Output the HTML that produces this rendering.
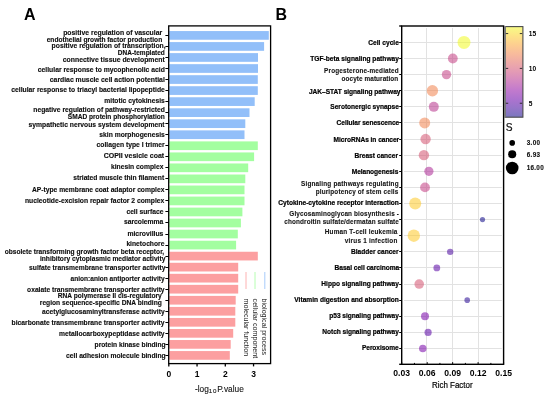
<!DOCTYPE html>
<html><head><meta charset="utf-8"><style>
html,body{margin:0;padding:0;background:#fff;}
body{width:550px;height:395px;overflow:hidden;}
svg{display:block;will-change:transform;}
text{font-family:"Liberation Sans", sans-serif;fill:#000;}
.la{font-size:6.35px;font-weight:bold;fill:#0d0d0d;stroke:#0d0d0d;stroke-width:0.12px;}
.lb{font-size:6.6px;font-weight:bold;fill:#000;stroke:#000;stroke-width:0.2px;}
.lb2{font-size:6.4px;font-weight:bold;fill:#141414;stroke:#141414;stroke-width:0.1px;}
.ta{font-size:8.5px;font-weight:bold;}
.tb{font-size:8.6px;font-weight:bold;}
.xl{font-size:8.3px;fill:#111;stroke:#111;stroke-width:0.1px;}
.xb{font-size:8.8px;fill:#000;stroke:#000;stroke-width:0.2px;}
.lg{font-size:7.1px;fill:#222;}
.cb{font-size:6.6px;font-weight:bold;}
.ss{font-size:10.2px;fill:#111;stroke:#111;stroke-width:0.2px;}
.sl{font-size:6.3px;font-weight:bold;fill:#111;stroke:#111;stroke-width:0.12px;}
.pl{font-size:16px;font-weight:bold;}
</style></head><body>
<svg width="550" height="395" viewBox="0 0 550 395" xmlns="http://www.w3.org/2000/svg">
<rect x="169.20" y="31.05" width="99.60" height="8.7" fill="#92bff9"/>
<line x1="165.4" x2="168.70" y1="35.50" y2="35.50" stroke="#000" stroke-width="1"/>
<rect x="169.20" y="42.09" width="94.90" height="8.7" fill="#92bff9"/>
<line x1="165.4" x2="168.70" y1="46.50" y2="46.50" stroke="#000" stroke-width="1"/>
<rect x="169.20" y="53.12" width="88.80" height="8.7" fill="#92bff9"/>
<line x1="165.4" x2="168.70" y1="57.50" y2="57.50" stroke="#000" stroke-width="1"/>
<rect x="169.20" y="64.16" width="88.80" height="8.7" fill="#92bff9"/>
<line x1="165.4" x2="168.70" y1="68.50" y2="68.50" stroke="#000" stroke-width="1"/>
<rect x="169.20" y="75.19" width="88.60" height="8.7" fill="#92bff9"/>
<line x1="165.4" x2="168.70" y1="79.50" y2="79.50" stroke="#000" stroke-width="1"/>
<rect x="169.20" y="86.22" width="88.60" height="8.7" fill="#92bff9"/>
<line x1="165.4" x2="168.70" y1="90.50" y2="90.50" stroke="#000" stroke-width="1"/>
<rect x="169.20" y="97.26" width="85.50" height="8.7" fill="#92bff9"/>
<line x1="165.4" x2="168.70" y1="101.50" y2="101.50" stroke="#000" stroke-width="1"/>
<rect x="169.20" y="108.30" width="80.30" height="8.7" fill="#92bff9"/>
<line x1="165.4" x2="168.70" y1="112.50" y2="112.50" stroke="#000" stroke-width="1"/>
<rect x="169.20" y="119.33" width="76.10" height="8.7" fill="#92bff9"/>
<line x1="165.4" x2="168.70" y1="123.50" y2="123.50" stroke="#000" stroke-width="1"/>
<rect x="169.20" y="130.37" width="75.30" height="8.7" fill="#92bff9"/>
<line x1="165.4" x2="168.70" y1="134.50" y2="134.50" stroke="#000" stroke-width="1"/>
<rect x="169.20" y="141.40" width="88.60" height="8.7" fill="#a3fea0"/>
<line x1="165.4" x2="168.70" y1="145.50" y2="145.50" stroke="#000" stroke-width="1"/>
<rect x="169.20" y="152.44" width="84.90" height="8.7" fill="#a3fea0"/>
<line x1="165.4" x2="168.70" y1="156.50" y2="156.50" stroke="#000" stroke-width="1"/>
<rect x="169.20" y="163.47" width="79.00" height="8.7" fill="#a3fea0"/>
<line x1="165.4" x2="168.70" y1="167.50" y2="167.50" stroke="#000" stroke-width="1"/>
<rect x="169.20" y="174.51" width="76.10" height="8.7" fill="#a3fea0"/>
<line x1="165.4" x2="168.70" y1="178.50" y2="178.50" stroke="#000" stroke-width="1"/>
<rect x="169.20" y="185.54" width="75.30" height="8.7" fill="#a3fea0"/>
<line x1="165.4" x2="168.70" y1="189.50" y2="189.50" stroke="#000" stroke-width="1"/>
<rect x="169.20" y="196.58" width="75.30" height="8.7" fill="#a3fea0"/>
<line x1="165.4" x2="168.70" y1="200.50" y2="200.50" stroke="#000" stroke-width="1"/>
<rect x="169.20" y="207.61" width="73.20" height="8.7" fill="#a3fea0"/>
<line x1="165.4" x2="168.70" y1="211.50" y2="211.50" stroke="#000" stroke-width="1"/>
<rect x="169.20" y="218.65" width="71.70" height="8.7" fill="#a3fea0"/>
<line x1="165.4" x2="168.70" y1="222.50" y2="222.50" stroke="#000" stroke-width="1"/>
<rect x="169.20" y="229.68" width="68.60" height="8.7" fill="#a3fea0"/>
<line x1="165.4" x2="168.70" y1="234.50" y2="234.50" stroke="#000" stroke-width="1"/>
<rect x="169.20" y="240.72" width="66.90" height="8.7" fill="#a3fea0"/>
<line x1="165.4" x2="168.70" y1="245.50" y2="245.50" stroke="#000" stroke-width="1"/>
<rect x="169.20" y="251.75" width="88.60" height="8.7" fill="#fc9fa0"/>
<line x1="165.4" x2="168.70" y1="256.50" y2="256.50" stroke="#000" stroke-width="1"/>
<rect x="169.20" y="262.78" width="69.00" height="8.7" fill="#fc9fa0"/>
<line x1="165.4" x2="168.70" y1="267.50" y2="267.50" stroke="#000" stroke-width="1"/>
<rect x="169.20" y="273.82" width="69.00" height="8.7" fill="#fc9fa0"/>
<line x1="165.4" x2="168.70" y1="278.50" y2="278.50" stroke="#000" stroke-width="1"/>
<rect x="169.20" y="284.85" width="69.00" height="8.7" fill="#fc9fa0"/>
<line x1="165.4" x2="168.70" y1="289.50" y2="289.50" stroke="#000" stroke-width="1"/>
<rect x="169.20" y="295.89" width="66.50" height="8.7" fill="#fc9fa0"/>
<line x1="165.4" x2="168.70" y1="300.50" y2="300.50" stroke="#000" stroke-width="1"/>
<rect x="169.20" y="306.92" width="66.10" height="8.7" fill="#fc9fa0"/>
<line x1="165.4" x2="168.70" y1="311.50" y2="311.50" stroke="#000" stroke-width="1"/>
<rect x="169.20" y="317.96" width="66.10" height="8.7" fill="#fc9fa0"/>
<line x1="165.4" x2="168.70" y1="322.50" y2="322.50" stroke="#000" stroke-width="1"/>
<rect x="169.20" y="328.99" width="64.00" height="8.7" fill="#fc9fa0"/>
<line x1="165.4" x2="168.70" y1="333.50" y2="333.50" stroke="#000" stroke-width="1"/>
<rect x="169.20" y="340.03" width="61.50" height="8.7" fill="#fc9fa0"/>
<line x1="165.4" x2="168.70" y1="344.50" y2="344.50" stroke="#000" stroke-width="1"/>
<rect x="169.20" y="351.06" width="60.60" height="8.7" fill="#fc9fa0"/>
<line x1="165.4" x2="168.70" y1="355.50" y2="355.50" stroke="#000" stroke-width="1"/>
<text x="162.20" y="34.60" text-anchor="end" class="la" textLength="99.00" lengthAdjust="spacingAndGlyphs">positive regulation of vascular</text>
<text x="162.20" y="41.60" text-anchor="end" class="la" textLength="115.50" lengthAdjust="spacingAndGlyphs">endothelial growth factor production</text>
<text x="165.60" y="47.50" text-anchor="end" class="la" textLength="114.00" lengthAdjust="spacingAndGlyphs">positive regulation of transcription,</text>
<text x="164.80" y="54.70" text-anchor="end" class="la" textLength="47.00" lengthAdjust="spacingAndGlyphs">DNA-templated</text>
<text x="164.80" y="61.50" text-anchor="end" class="la" textLength="102.00" lengthAdjust="spacingAndGlyphs">connective tissue development</text>
<text x="164.80" y="71.90" text-anchor="end" class="la" textLength="127.00" lengthAdjust="spacingAndGlyphs">cellular response to mycophenolic acid</text>
<text x="164.80" y="82.10" text-anchor="end" class="la" textLength="115.00" lengthAdjust="spacingAndGlyphs">cardiac muscle cell action potential</text>
<text x="164.80" y="92.30" text-anchor="end" class="la" textLength="153.50" lengthAdjust="spacingAndGlyphs">cellular response to triacyl bacterial lipopeptide</text>
<text x="164.80" y="102.60" text-anchor="end" class="la" textLength="60.50" lengthAdjust="spacingAndGlyphs">mitotic cytokinesis</text>
<text x="164.80" y="112.40" text-anchor="end" class="la" textLength="131.50" lengthAdjust="spacingAndGlyphs">negative regulation of pathway-restricted</text>
<text x="164.80" y="119.40" text-anchor="end" class="la" textLength="97.00" lengthAdjust="spacingAndGlyphs">SMAD protein phosphorylation</text>
<text x="164.60" y="127.30" text-anchor="end" class="la" textLength="136.00" lengthAdjust="spacingAndGlyphs">sympathetic nervous system development</text>
<text x="164.80" y="136.50" text-anchor="end" class="la" textLength="65.50" lengthAdjust="spacingAndGlyphs">skin morphogenesis</text>
<text x="164.60" y="147.40" text-anchor="end" class="la" textLength="68.00" lengthAdjust="spacingAndGlyphs">collagen type I trimer</text>
<text x="164.20" y="158.40" text-anchor="end" class="la" textLength="60.50" lengthAdjust="spacingAndGlyphs">COPII vesicle coat</text>
<text x="163.40" y="169.40" text-anchor="end" class="la" textLength="52.50" lengthAdjust="spacingAndGlyphs">kinesin complex</text>
<text x="164.20" y="180.20" text-anchor="end" class="la" textLength="91.00" lengthAdjust="spacingAndGlyphs">striated muscle thin filament</text>
<text x="164.40" y="191.70" text-anchor="end" class="la" textLength="132.50" lengthAdjust="spacingAndGlyphs">AP-type membrane coat adaptor complex</text>
<text x="164.40" y="202.50" text-anchor="end" class="la" textLength="139.50" lengthAdjust="spacingAndGlyphs">nucleotide-excision repair factor 2 complex</text>
<text x="163.40" y="213.70" text-anchor="end" class="la" textLength="37.00" lengthAdjust="spacingAndGlyphs">cell surface</text>
<text x="163.40" y="224.40" text-anchor="end" class="la" textLength="39.50" lengthAdjust="spacingAndGlyphs">sarcolemma</text>
<text x="163.40" y="235.70" text-anchor="end" class="la" textLength="36.00" lengthAdjust="spacingAndGlyphs">microvillus</text>
<text x="164.40" y="246.40" text-anchor="end" class="la" textLength="38.00" lengthAdjust="spacingAndGlyphs">kinetochore</text>
<text x="164.20" y="254.40" text-anchor="end" class="la" textLength="159.50" lengthAdjust="spacingAndGlyphs">obsolete transforming growth factor beta receptor,</text>
<text x="165.40" y="261.40" text-anchor="end" class="la" textLength="125.50" lengthAdjust="spacingAndGlyphs">inhibitory cytoplasmic mediator activity</text>
<text x="165.60" y="270.30" text-anchor="end" class="la" textLength="136.50" lengthAdjust="spacingAndGlyphs">sulfate transmembrane transporter activity</text>
<text x="164.60" y="280.90" text-anchor="end" class="la" textLength="94.00" lengthAdjust="spacingAndGlyphs">anion:anion antiporter activity</text>
<text x="164.60" y="292.00" text-anchor="end" class="la" textLength="137.50" lengthAdjust="spacingAndGlyphs">oxalate transmembrane transporter activity</text>
<text x="161.80" y="298.20" text-anchor="end" class="la" textLength="104.00" lengthAdjust="spacingAndGlyphs">RNA polymerase II cis-regulatory</text>
<text x="161.80" y="305.00" text-anchor="end" class="la" textLength="122.00" lengthAdjust="spacingAndGlyphs">region sequence-specific DNA binding</text>
<text x="164.60" y="313.90" text-anchor="end" class="la" textLength="122.50" lengthAdjust="spacingAndGlyphs">acetylglucosaminyltransferase activity</text>
<text x="164.60" y="325.00" text-anchor="end" class="la" textLength="153.00" lengthAdjust="spacingAndGlyphs">bicarbonate transmembrane transporter activity</text>
<text x="164.60" y="335.90" text-anchor="end" class="la" textLength="105.50" lengthAdjust="spacingAndGlyphs">metallocarboxypeptidase activity</text>
<text x="165.60" y="347.10" text-anchor="end" class="la" textLength="71.00" lengthAdjust="spacingAndGlyphs">protein kinase binding</text>
<text x="165.60" y="358.00" text-anchor="end" class="la" textLength="99.50" lengthAdjust="spacingAndGlyphs">cell adhesion molecule binding</text>
<rect x="168.7" y="25.9" width="101.90" height="337.70" fill="none" stroke="#000" stroke-width="1.3"/>
<line x1="168.80" x2="168.80" y1="363.6" y2="366.40000000000003" stroke="#000" stroke-width="1.3"/>
<text x="168.80" y="377.4" text-anchor="middle" class="ta">0</text>
<line x1="197.05" x2="197.05" y1="363.6" y2="366.40000000000003" stroke="#000" stroke-width="1.3"/>
<text x="197.05" y="377.4" text-anchor="middle" class="ta">1</text>
<line x1="225.30" x2="225.30" y1="363.6" y2="366.40000000000003" stroke="#000" stroke-width="1.3"/>
<text x="225.30" y="377.4" text-anchor="middle" class="ta">2</text>
<line x1="253.55" x2="253.55" y1="363.6" y2="366.40000000000003" stroke="#000" stroke-width="1.3"/>
<text x="253.55" y="377.4" text-anchor="middle" class="ta">3</text>
<text x="195.0" y="391.7" class="xl">-log<tspan font-size="6.2" dy="1.7" letter-spacing="0.7">10</tspan><tspan dy="-1.7">P.value</tspan></text>
<line x1="246" x2="246" y1="272" y2="289" stroke="#fc9fa0" stroke-width="0.8"/>
<line x1="255" x2="255" y1="272" y2="289" stroke="#a3fea0" stroke-width="0.8"/>
<line x1="264.8" x2="264.8" y1="272" y2="289" stroke="#92bff9" stroke-width="0.8"/>
<text x="0" y="0" transform="translate(262.2,298.6) rotate(90)" class="lg">biological process</text>
<text x="0" y="0" transform="translate(253.1,298.6) rotate(90)" class="lg">cellular component</text>
<text x="0" y="0" transform="translate(243.8,298.6) rotate(90)" class="lg">molecular function</text>
<line x1="426.50" x2="426.50" y1="28.0" y2="362.3" stroke="#e2e2e2" stroke-width="1"/>
<line x1="452.50" x2="452.50" y1="28.0" y2="362.3" stroke="#e2e2e2" stroke-width="1"/>
<line x1="478.50" x2="478.50" y1="28.0" y2="362.3" stroke="#e2e2e2" stroke-width="1"/>
<line x1="404.00" x2="501.80" y1="42.50" y2="42.50" stroke="#e2e2e2" stroke-width="1"/>
<line x1="404.00" x2="501.80" y1="58.50" y2="58.50" stroke="#e2e2e2" stroke-width="1"/>
<line x1="404.00" x2="501.80" y1="74.50" y2="74.50" stroke="#e2e2e2" stroke-width="1"/>
<line x1="404.00" x2="501.80" y1="90.50" y2="90.50" stroke="#e2e2e2" stroke-width="1"/>
<line x1="404.00" x2="501.80" y1="106.50" y2="106.50" stroke="#e2e2e2" stroke-width="1"/>
<line x1="404.00" x2="501.80" y1="122.50" y2="122.50" stroke="#e2e2e2" stroke-width="1"/>
<line x1="404.00" x2="501.80" y1="139.50" y2="139.50" stroke="#e2e2e2" stroke-width="1"/>
<line x1="404.00" x2="501.80" y1="155.50" y2="155.50" stroke="#e2e2e2" stroke-width="1"/>
<line x1="404.00" x2="501.80" y1="171.50" y2="171.50" stroke="#e2e2e2" stroke-width="1"/>
<line x1="404.00" x2="501.80" y1="187.50" y2="187.50" stroke="#e2e2e2" stroke-width="1"/>
<line x1="404.00" x2="501.80" y1="203.50" y2="203.50" stroke="#e2e2e2" stroke-width="1"/>
<line x1="404.00" x2="501.80" y1="219.50" y2="219.50" stroke="#e2e2e2" stroke-width="1"/>
<line x1="404.00" x2="501.80" y1="235.50" y2="235.50" stroke="#e2e2e2" stroke-width="1"/>
<line x1="404.00" x2="501.80" y1="251.50" y2="251.50" stroke="#e2e2e2" stroke-width="1"/>
<line x1="404.00" x2="501.80" y1="267.50" y2="267.50" stroke="#e2e2e2" stroke-width="1"/>
<line x1="404.00" x2="501.80" y1="284.50" y2="284.50" stroke="#e2e2e2" stroke-width="1"/>
<line x1="404.00" x2="501.80" y1="300.50" y2="300.50" stroke="#e2e2e2" stroke-width="1"/>
<line x1="404.00" x2="501.80" y1="316.50" y2="316.50" stroke="#e2e2e2" stroke-width="1"/>
<line x1="404.00" x2="501.80" y1="332.50" y2="332.50" stroke="#e2e2e2" stroke-width="1"/>
<line x1="404.00" x2="501.80" y1="348.50" y2="348.50" stroke="#e2e2e2" stroke-width="1"/>
<circle cx="464.0" cy="42.40" r="6.5" fill="#f0f921" fill-opacity="0.55"/>
<line x1="399.2" x2="401.7" y1="42.50" y2="42.50" stroke="#000" stroke-width="1"/>
<circle cx="452.8" cy="58.51" r="4.9" fill="#c23c81" fill-opacity="0.55"/>
<line x1="399.2" x2="401.7" y1="58.50" y2="58.50" stroke="#000" stroke-width="1"/>
<circle cx="446.5" cy="74.62" r="4.7" fill="#c23c81" fill-opacity="0.55"/>
<line x1="399.2" x2="401.7" y1="74.50" y2="74.50" stroke="#000" stroke-width="1"/>
<circle cx="432.4" cy="90.73" r="5.7" fill="#f1814d" fill-opacity="0.55"/>
<line x1="399.2" x2="401.7" y1="90.50" y2="90.50" stroke="#000" stroke-width="1"/>
<circle cx="433.8" cy="106.84" r="5.0" fill="#b7318a" fill-opacity="0.55"/>
<line x1="399.2" x2="401.7" y1="106.50" y2="106.50" stroke="#000" stroke-width="1"/>
<circle cx="424.7" cy="122.95" r="5.5" fill="#f1814d" fill-opacity="0.55"/>
<line x1="399.2" x2="401.7" y1="122.50" y2="122.50" stroke="#000" stroke-width="1"/>
<circle cx="425.6" cy="139.06" r="5.2" fill="#d45270" fill-opacity="0.55"/>
<line x1="399.2" x2="401.7" y1="139.50" y2="139.50" stroke="#000" stroke-width="1"/>
<circle cx="423.9" cy="155.17" r="5.2" fill="#d45270" fill-opacity="0.55"/>
<line x1="399.2" x2="401.7" y1="155.50" y2="155.50" stroke="#000" stroke-width="1"/>
<circle cx="428.9" cy="171.28" r="4.6" fill="#ac2694" fill-opacity="0.55"/>
<line x1="399.2" x2="401.7" y1="171.50" y2="171.50" stroke="#000" stroke-width="1"/>
<circle cx="425.0" cy="187.39" r="4.9" fill="#c23c81" fill-opacity="0.55"/>
<line x1="399.2" x2="401.7" y1="187.50" y2="187.50" stroke="#000" stroke-width="1"/>
<circle cx="415.2" cy="203.50" r="6.0" fill="#fdc827" fill-opacity="0.55"/>
<line x1="399.2" x2="401.7" y1="203.50" y2="203.50" stroke="#000" stroke-width="1"/>
<circle cx="482.5" cy="219.61" r="2.6" fill="#0d0887" fill-opacity="0.55"/>
<line x1="399.2" x2="401.7" y1="219.50" y2="219.50" stroke="#000" stroke-width="1"/>
<circle cx="413.8" cy="235.72" r="6.2" fill="#fdc827" fill-opacity="0.55"/>
<line x1="399.2" x2="401.7" y1="235.50" y2="235.50" stroke="#000" stroke-width="1"/>
<circle cx="450.2" cy="251.83" r="3.2" fill="#48039f" fill-opacity="0.55"/>
<line x1="399.2" x2="401.7" y1="251.50" y2="251.50" stroke="#000" stroke-width="1"/>
<circle cx="436.8" cy="267.94" r="3.4" fill="#5801a4" fill-opacity="0.55"/>
<line x1="399.2" x2="401.7" y1="267.50" y2="267.50" stroke="#000" stroke-width="1"/>
<circle cx="419.2" cy="284.05" r="4.8" fill="#d45270" fill-opacity="0.55"/>
<line x1="399.2" x2="401.7" y1="284.50" y2="284.50" stroke="#000" stroke-width="1"/>
<circle cx="467.2" cy="300.16" r="2.8" fill="#240691" fill-opacity="0.55"/>
<line x1="399.2" x2="401.7" y1="300.50" y2="300.50" stroke="#000" stroke-width="1"/>
<circle cx="425.0" cy="316.27" r="4.0" fill="#7701a8" fill-opacity="0.55"/>
<line x1="399.2" x2="401.7" y1="316.50" y2="316.50" stroke="#000" stroke-width="1"/>
<circle cx="428.1" cy="332.38" r="3.6" fill="#5801a4" fill-opacity="0.55"/>
<line x1="399.2" x2="401.7" y1="332.50" y2="332.50" stroke="#000" stroke-width="1"/>
<circle cx="422.8" cy="348.49" r="3.8" fill="#7701a8" fill-opacity="0.55"/>
<line x1="399.2" x2="401.7" y1="348.50" y2="348.50" stroke="#000" stroke-width="1"/>
<text x="398.90" y="44.90" text-anchor="end" class="lb" textLength="30.60">Cell cycle</text>
<text x="398.90" y="61.20" text-anchor="end" class="lb" textLength="88.60">TGF-beta signaling pathway</text>
<text x="398.70" y="73.00" text-anchor="end" class="lb2" textLength="74.60">Progesterone-mediated</text>
<text x="398.20" y="80.80" text-anchor="end" class="lb2" textLength="56.60">oocyte maturation</text>
<text x="400.50" y="93.80" text-anchor="end" class="lb" textLength="91.60">JAK–STAT signaling pathway</text>
<text x="398.90" y="108.60" text-anchor="end" class="lb" textLength="68.60">Serotonergic synapse</text>
<text x="399.20" y="125.20" text-anchor="end" class="lb" textLength="62.60">Cellular senescence</text>
<text x="399.20" y="141.80" text-anchor="end" class="lb" textLength="65.60">MicroRNAs in cancer</text>
<text x="398.00" y="157.60" text-anchor="end" class="lb" textLength="43.60">Breast cancer</text>
<text x="398.30" y="173.70" text-anchor="end" class="lb" textLength="46.60">Melanogenesis</text>
<text x="398.60" y="186.10" text-anchor="end" class="lb2" textLength="97.60">Signaling pathways regulating</text>
<text x="398.30" y="193.70" text-anchor="end" class="lb2" textLength="82.60">pluripotency of stem cells</text>
<text x="398.90" y="205.00" text-anchor="end" class="lb" textLength="120.60">Cytokine-cytokine receptor interaction</text>
<text x="398.90" y="215.60" text-anchor="end" class="lb2" textLength="109.60">Glycosaminoglycan biosynthesis -</text>
<text x="398.90" y="223.90" text-anchor="end" class="lb2" textLength="114.60">chondroitin sulfate/dermatan sulfate</text>
<text x="397.40" y="234.20" text-anchor="end" class="lb2" textLength="72.60">Human T-cell leukemia</text>
<text x="397.40" y="242.50" text-anchor="end" class="lb2" textLength="52.60">virus 1 infection</text>
<text x="398.60" y="253.80" text-anchor="end" class="lb" textLength="47.60">Bladder cancer</text>
<text x="399.20" y="269.70" text-anchor="end" class="lb" textLength="64.60">Basal cell carcinoma</text>
<text x="398.90" y="285.90" text-anchor="end" class="lb" textLength="77.60">Hippo signaling pathway</text>
<text x="398.90" y="301.60" text-anchor="end" class="lb" textLength="104.60">Vitamin digestion and absorption</text>
<text x="398.90" y="317.60" text-anchor="end" class="lb" textLength="69.60">p53 signaling pathway</text>
<text x="398.90" y="333.90" text-anchor="end" class="lb" textLength="76.60">Notch signaling pathway</text>
<text x="398.60" y="349.90" text-anchor="end" class="lb" textLength="36.60">Peroxisome</text>
<rect x="401.7" y="26.0" width="101.90" height="338.30" fill="none" stroke="#000" stroke-width="1.4"/>
<line x1="399.2" x2="401.7" y1="26.0" y2="26.0" stroke="#000" stroke-width="1.4"/>
<line x1="399.2" x2="401.7" y1="364.3" y2="364.3" stroke="#000" stroke-width="1.4"/>
<line x1="401.70" x2="401.70" y1="364.3" y2="362.1" stroke="#000" stroke-width="1"/>
<line x1="414.44" x2="414.44" y1="364.3" y2="362.90000000000003" stroke="#000" stroke-width="1"/>
<line x1="427.18" x2="427.18" y1="364.3" y2="362.1" stroke="#000" stroke-width="1"/>
<line x1="439.91" x2="439.91" y1="364.3" y2="362.90000000000003" stroke="#000" stroke-width="1"/>
<line x1="452.65" x2="452.65" y1="364.3" y2="362.1" stroke="#000" stroke-width="1"/>
<line x1="465.39" x2="465.39" y1="364.3" y2="362.90000000000003" stroke="#000" stroke-width="1"/>
<line x1="478.12" x2="478.12" y1="364.3" y2="362.1" stroke="#000" stroke-width="1"/>
<line x1="490.86" x2="490.86" y1="364.3" y2="362.90000000000003" stroke="#000" stroke-width="1"/>
<line x1="503.60" x2="503.60" y1="364.3" y2="362.1" stroke="#000" stroke-width="1"/>
<text x="401.70" y="375.9" text-anchor="middle" class="tb">0.03</text>
<text x="427.18" y="375.9" text-anchor="middle" class="tb">0.06</text>
<text x="452.65" y="375.9" text-anchor="middle" class="tb">0.09</text>
<text x="478.12" y="375.9" text-anchor="middle" class="tb">0.12</text>
<text x="503.60" y="375.9" text-anchor="middle" class="tb">0.15</text>
<text x="452.3" y="387.9" text-anchor="middle" class="xb" textLength="40.6" lengthAdjust="spacingAndGlyphs">Rich Factor</text>
<defs><linearGradient id="cb" x1="0" y1="0" x2="0" y2="1"><stop offset="0.00" stop-color="#f7fc85"/><stop offset="0.10" stop-color="#fde487"/><stop offset="0.20" stop-color="#fdce90"/><stop offset="0.30" stop-color="#f8bb9c"/><stop offset="0.40" stop-color="#eeaaa8"/><stop offset="0.50" stop-color="#e39ab5"/><stop offset="0.60" stop-color="#d48ac2"/><stop offset="0.70" stop-color="#c27acd"/><stop offset="0.80" stop-color="#ad73cf"/><stop offset="0.90" stop-color="#9675c9"/><stop offset="1.00" stop-color="#7a77bd"/></linearGradient></defs>
<rect x="505.1" y="26.6" width="17.8" height="90.6" fill="url(#cb)" stroke="#4a4a4a" stroke-width="1.1"/>
<rect x="504.1" y="26.1" width="1.8" height="91.6" fill="#7a7a7a"/>
<line x1="505.8" x2="508.2" y1="33.57" y2="33.57" stroke="#222" stroke-width="0.9"/>
<line x1="519.8" x2="522.2" y1="33.57" y2="33.57" stroke="#222" stroke-width="0.9"/>
<text x="528.8" y="35.87" class="cb">15</text>
<line x1="505.8" x2="508.2" y1="68.42" y2="68.42" stroke="#222" stroke-width="0.9"/>
<line x1="519.8" x2="522.2" y1="68.42" y2="68.42" stroke="#222" stroke-width="0.9"/>
<text x="528.8" y="70.72" class="cb">10</text>
<line x1="505.8" x2="508.2" y1="103.26" y2="103.26" stroke="#222" stroke-width="0.9"/>
<line x1="519.8" x2="522.2" y1="103.26" y2="103.26" stroke="#222" stroke-width="0.9"/>
<text x="528.8" y="105.56" class="cb">5</text>
<text x="505.8" y="130.9" class="ss">S</text>
<circle cx="512.2" cy="142.9" r="2.8" fill="#000"/>
<text x="526.7" y="145.30" class="sl" textLength="13.4">3.00</text>
<circle cx="512.2" cy="154.2" r="4.05" fill="#000"/>
<text x="526.7" y="156.60" class="sl" textLength="13.4">6.93</text>
<circle cx="512.2" cy="168.0" r="6.3" fill="#000"/>
<text x="526.7" y="170.40" class="sl" textLength="17.0">16.00</text>
<text x="23.9" y="20.0" class="pl">A</text>
<text x="275.5" y="19.6" class="pl">B</text>
</svg>
</body></html>
